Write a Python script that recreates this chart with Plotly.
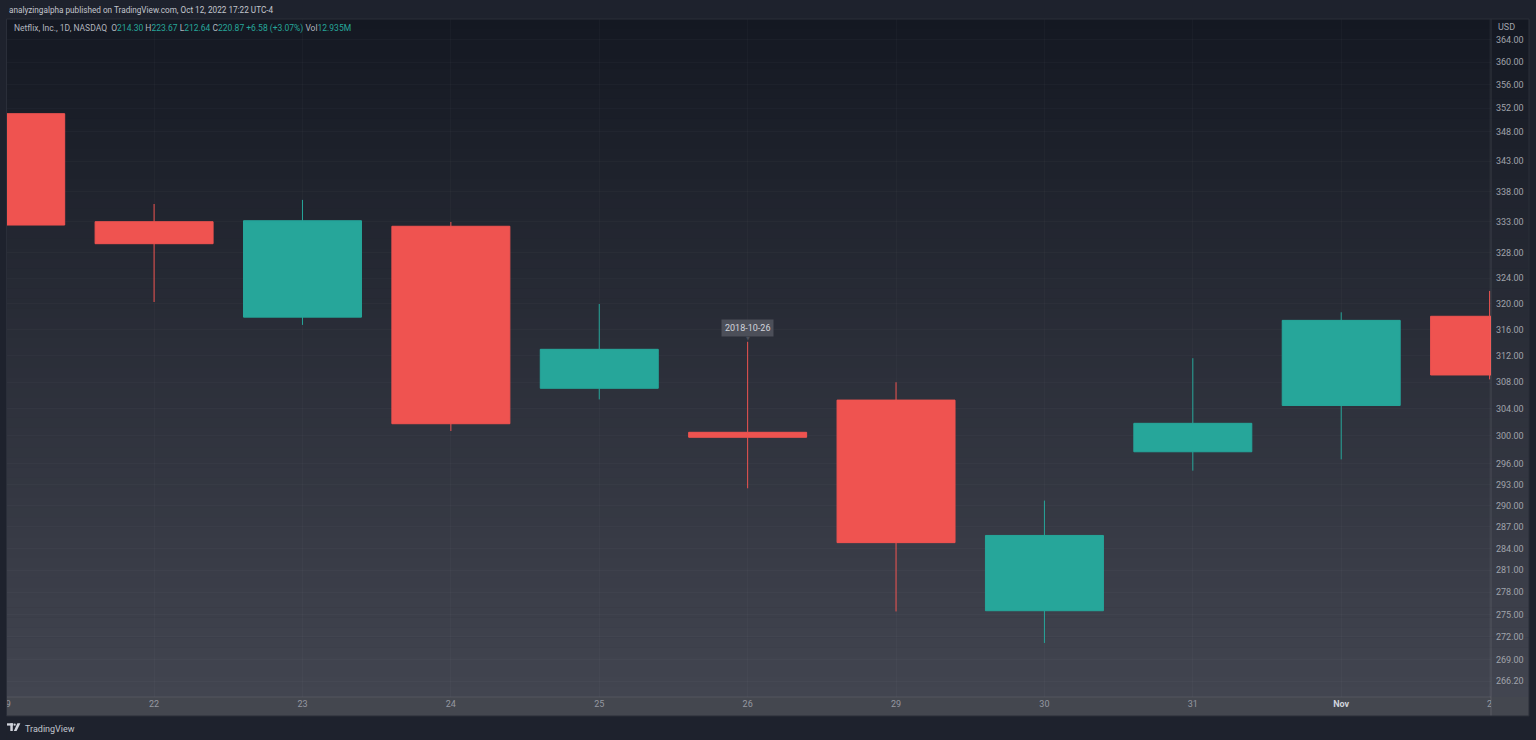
import math
import plotly.graph_objects as go

# ---------------- data ----------------
dates = ["2018-10-19", "2018-10-22", "2018-10-23", "2018-10-24", "2018-10-25", "2018-10-26",
         "2018-10-29", "2018-10-30", "2018-10-31", "2018-11-01", "2018-11-02"]
x_labels = ["19", "22", "23", "24", "25", "26", "29", "30", "31", "Nov", "2"]
open_p = [351.05, 333.04, 317.90, 332.30, 307.06, 300.54, 305.30, 275.50, 297.70, 304.50, 318.03]
high_p = [355.50, 335.93, 336.60, 333.00, 319.94, 314.10, 307.96, 290.70, 311.60, 318.65, 321.98]
low_p = [331.70, 320.25, 316.70, 300.73, 305.40, 292.45, 275.40, 271.20, 294.97, 296.60, 308.40]
close_p = [332.50, 329.49, 333.20, 301.80, 312.95, 299.81, 284.80, 285.80, 301.86, 317.40, 309.06]

price_ticks = [364, 360, 356, 352, 348, 343, 338, 333, 328, 324, 320, 316, 312, 308, 304,
               300, 296, 293, 290, 287, 284, 281, 278, 275, 272, 269, 266.20]

publish_text = "analyzingalpha published on TradingView.com, Oct 12, 2022 17:22 UTC-4"
symbol_text = "Netflix, Inc., 1D, NASDAQ"
ohlc_keys = ["O", "H", "L", "C"]
ohlc_vals = ["214.30", "223.67", "212.64", "220.87"]
change_text = "+6.58 (+3.07%)"
vol_text = "12.935M"
hover_index = 5

# ---------------- geometry helpers ----------------
W, H = 1536, 740
L, R, T, B = 0, 45, 19, 43
PW = W - L - R
PH = H - T - B


def px(x):
    return (x - L) / PW


def py(y):
    return (H - B - y) / PH


UP = "#26a69a"
DOWN = "#ef5350"
OUTER = "#1e222d"
FONT = "Roboto"

xs = list(range(len(dates)))

fig = go.Figure()
fig.add_trace(go.Candlestick(
    x=xs, open=open_p, high=high_p, low=low_p, close=close_p,
    increasing=dict(line=dict(color=UP, width=1), fillcolor=UP),
    decreasing=dict(line=dict(color=DOWN, width=1), fillcolor=DOWN),
    whiskerwidth=0, showlegend=False, hoverinfo="skip",
))

shapes = []
# gradient background for the chart panel
top_c = (20, 24, 34)
bot_c = (66, 69, 80)
y_top, y_bot = 19, 697
N = 68
for i in range(N):
    ya = y_top + (y_bot - y_top) * i / N
    yb = y_top + (y_bot - y_top) * (i + 1) / N
    t = (i + 0.5) / N
    c = tuple(round(top_c[k] + (bot_c[k] - top_c[k]) * t) for k in range(3))
    shapes.append(dict(type="rect", xref="paper", yref="paper",
                       x0=px(6.5), x1=px(1529), y0=py(yb + 0.6), y1=py(ya),
                       fillcolor="rgb(%d,%d,%d)" % c, line=dict(width=0), layer="below"))
# time axis band
shapes.append(dict(type="rect", xref="paper", yref="paper", x0=px(6.5), x1=px(1529),
                   y0=py(716), y1=py(697), fillcolor="#44474f", line=dict(width=0), layer="below"))
# cover right part of time band (clips last label)
shapes.append(dict(type="rect", xref="paper", yref="paper", x0=px(1491), x1=px(1529),
                   y0=py(716), y1=py(697), fillcolor="#44474f", line=dict(width=0), layer="above"))
# separator lines
shapes.append(dict(type="line", xref="paper", yref="paper", x0=px(6.5), x1=px(1491),
                   y0=py(697), y1=py(697), line=dict(color="rgba(255,255,255,0.09)", width=1), layer="above"))
shapes.append(dict(type="line", xref="paper", yref="paper", x0=px(1491), x1=px(1491),
                   y0=py(716), y1=py(19), line=dict(color="rgba(255,255,255,0.12)", width=1), layer="above"))
# left strip cover
shapes.append(dict(type="rect", xref="paper", yref="paper", x0=px(-2), x1=px(6.5),
                   y0=py(742), y1=py(-2), fillcolor=OUTER, line=dict(width=0), layer="above"))
# panel border
shapes.append(dict(type="rect", xref="paper", yref="paper", x0=px(6.5), x1=px(1529),
                   y0=py(716), y1=py(19), fillcolor="rgba(0,0,0,0)",
                   line=dict(color="#2a2e39", width=1), layer="above"))
# TradingView logo
LOGO = "#d1d4dc"
shapes.append(dict(type="rect", xref="paper", yref="paper", x0=px(7), x1=px(13.2),
                   y0=py(725.6), y1=py(723.3), fillcolor=LOGO, line=dict(width=0), layer="above"))
shapes.append(dict(type="rect", xref="paper", yref="paper", x0=px(10.3), x1=px(12.8),
                   y0=py(731), y1=py(723.3), fillcolor=LOGO, line=dict(width=0), layer="above"))
shapes.append(dict(type="circle", xref="paper", yref="paper", x0=px(13.6), x1=px(15.8),
                   y0=py(725.8), y1=py(723.6), fillcolor=LOGO, line=dict(width=0), layer="above"))
shapes.append(dict(type="path", xref="paper", yref="paper",
                   path="M %f %f L %f %f L %f %f L %f %f Z" % (
                       px(17.4), py(723.3), px(20.4), py(723.3), px(16.6), py(731), px(13.8), py(731)),
                   fillcolor=LOGO, line=dict(width=0), layer="above"))

annotations = []
annotations.append(dict(xref="paper", yref="paper", x=px(7), y=py(10), xanchor="left", yanchor="middle",
                        text=publish_text, showarrow=False, font=dict(family=FONT, size=8.2, color="#c3c6ce")))
sp = "\u00a0"
hdr = symbol_text + sp + sp
for k, v in zip(ohlc_keys, ohlc_vals):
    hdr += "%s<span style='color:%s'>%s</span>%s" % (k, UP, v, sp)
hdr += "<span style='color:%s'>%s</span>%sVol<span style='color:%s'>%s</span>" % (UP, change_text, sp, UP, vol_text)
annotations.append(dict(xref="paper", yref="paper", x=px(12), y=py(28), xanchor="left", yanchor="middle",
                        text=hdr, showarrow=False, font=dict(family=FONT, size=8.5, color="#b2b5be")))
annotations.append(dict(xref="paper", yref="paper", x=px(1496), y=py(27), xanchor="left", yanchor="middle",
                        text="USD", showarrow=False, font=dict(family=FONT, size=9, color="#a0a3ab")))
annotations.append(dict(xref="paper", yref="paper", x=px(22.5), y=py(729), xanchor="left", yanchor="middle",
                        text="TradingView", showarrow=False, font=dict(family=FONT, size=9, color="#c3c6ce")))
# hover date label
annotations.append(dict(xref="x", yref="y", x=xs[hover_index], y=math.log10(high_p[hover_index]),
                        xanchor="center", yanchor="bottom", yshift=4.5, text=dates[hover_index],
                        showarrow=False, bgcolor="#4c4f59", borderpad=3,
                        font=dict(family=FONT, size=9, color="#d1d4dc")))
annotations.append(dict(xref="x", yref="y", x=xs[hover_index], y=math.log10(high_p[hover_index]),
                        xanchor="center", yanchor="bottom", yshift=-1, text="\u25bc",
                        showarrow=False, font=dict(family="DejaVu Sans", size=5, color="#4c4f59")))

tick_text_x = []
for lab in x_labels:
    if lab == "Nov":
        tick_text_x.append("<b><span style='color:#d1d4dc'>%s</span></b>" % lab)
    else:
        tick_text_x.append(lab)

unit = 148.39
x_left = -5.7 / unit
x_right = (PW - 5.7) / unit

fig.update_layout(
    width=W, height=H,
    margin=dict(l=L, r=R, t=T, b=B, pad=0),
    paper_bgcolor=OUTER, plot_bgcolor="rgba(0,0,0,0)",
    shapes=shapes, annotations=annotations,
    boxgap=0.205, boxgroupgap=0,
    showlegend=False,
    font=dict(family=FONT),
    xaxis=dict(type="linear", range=[x_left, x_right], tickmode="array", tickvals=xs, ticktext=tick_text_x,
               showgrid=True, gridcolor="rgba(255,255,255,0.025)", gridwidth=1, zeroline=False,
               showline=False, ticks="", tickfont=dict(family=FONT, size=9, color="#9598a1"),
               rangeslider=dict(visible=False), fixedrange=True),
    yaxis=dict(type="log", range=[math.log10(264.15), math.log10(367.64)], side="right",
               tickmode="array", tickvals=price_ticks, ticktext=["%.2f" % v for v in price_ticks],
               showgrid=True, gridcolor="rgba(255,255,255,0.025)", gridwidth=1, zeroline=False,
               showline=False, ticks="", ticklabelstandoff=4,
               tickfont=dict(family=FONT, size=9, color="#a0a3ab"), fixedrange=True),
)

fig.write_html(
    "out.html",
    config={"displayModeBar": False},
    post_script="document.body.style.margin='0';document.body.style.overflow='hidden';"
                "document.body.style.background='#1e222d';",
)
